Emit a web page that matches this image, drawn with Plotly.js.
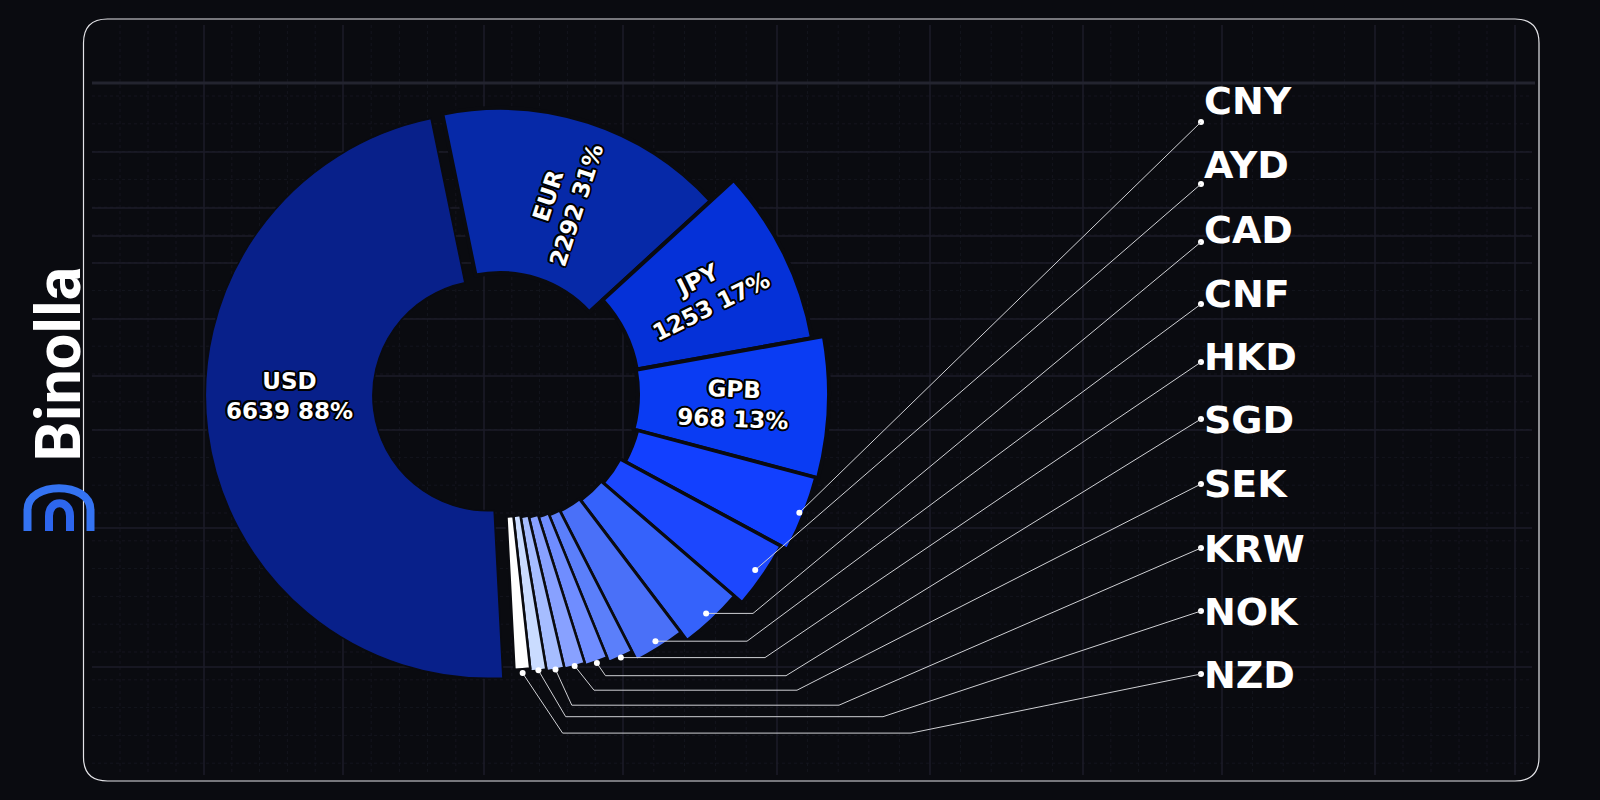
<!DOCTYPE html>
<html><head><meta charset="utf-8">
<script src="https://cdn.plot.ly/plotly-3.0.1.min.js"></script>
<style>html,body{margin:0;padding:0;background:#0a0b10;overflow:hidden}#chart{width:1600px;height:800px}</style>
</head><body><div id="chart"></div>
<script>
// ---------------- data ----------------
const currencies = ['USD','EUR','JPY','GPB','CNY','AYD','CAD','CNF','HKD','SGD','SEK','KRW','NOK','NZD'];
const turnover   = [6639, 2292, 1253, 968, 526, 479, 466, 390, 194, 180, 165, 142, 127, 127];
const sharePct   = [88, 31, 17, 13, 7, 6, 6, 5, 3, 2, 2, 2, 2, 2];
const insideLabelled = ['USD','EUR','JPY','GPB'];
const calloutLabels  = ['CNY','AYD','CAD','CNF','HKD','SGD','SEK','KRW','NOK','NZD'];
const brandName = 'Binolla';

// ---------------- style ----------------
const W = 1600, H = 800, BG = '#0a0b10';
const CX = 500, CY = 394, ROTATION = 177;
const sliceColors = ['#08208a','#0629a8','#0531d8','#0a3cf3','#1240ff','#1c47fe','#3562fb','#4a70f8','#5b7ffa','#6f8dff','#88a1ff','#a6bdff','#cadcff','#ffffff'];
const visOuter = [282, 284, 315, 327, 325, 318, 308, 298, 288, 283, 281, 280, 278, 275];
const visInner = [116, 123, 141, 140, 144, 138, 135, 133, 132, 130, 128, 126, 124, 124];
const gapW     = [1.5, 4, 4, 4, 3.5, 3.5, 3, 3, 2.5, 2.5, 2.5, 2.5, 2.5, 2.5];
const pullPx   = [12, 0, 0, 0, 0, 0, 0, 0, 0, 0, 0, 0, 0, 0];
const dotOffset= [0, 0, 0, 0, -3, -8, -7, -6, 2, 3, 1, 1, 1, 5];
// callout routing (per callout row)
const labelX = 1201;
const labelDotY  = [122, 184, 242, 304, 362, 419, 484, 548, 611, 674];
const labelTextY = [100, 164, 229, 293, 356, 419, 483, 548, 611, 674];
const bendDx = [null, null, 0, 0, 0, 8.6, 19.3, 16.3, 27.3, 40];
const bendDy = [null, null, 0, 0, 0, 12.6, 24.3, 35.7, 46.4, 60];
const hEndX  = [null, null, 753, 747, 765, 786, 797, 839, 883, 911];

const SHADOW = '2px 0 0 #000,-2px 0 0 #000,0 2px 0 #000,0 -2px 0 #000,1.5px 1.5px 0 #000,-1.5px -1.5px 0 #000,1.5px -1.5px 0 #000,-1.5px 1.5px 0 #000';

const traces = [];
currencies.forEach((cur, i) => {
  const R = visOuter[i] + gapW[i] / 2;
  const p = pullPx[i] / R;
  const half = R * (1 + p);
  traces.push({
    type: 'pie',
    labels: currencies,
    values: turnover,
    sort: false,
    direction: 'clockwise',
    rotation: ROTATION,
    hole: (visInner[i] - gapW[i] / 2) / R,
    pull: currencies.map((c, j) => j === i ? p : 0),
    domain: { x: [(CX - half) / W, (CX + half) / W], y: [1 - (CY + half) / H, 1 - (CY - half) / H] },
    marker: {
      colors: currencies.map((c, j) => j === i ? sliceColors[i] : 'rgba(0,0,0,0)'),
      line: { color: BG, width: currencies.map((c, j) => j === i ? gapW[i] : 0) }
    },
    textinfo: 'none',
    hoverinfo: 'skip',
    showlegend: false
  });
});

// label dots as a cartesian trace
traces.push({
  type: 'scatter', mode: 'markers', x: calloutLabels.map(() => labelX), y: labelDotY,
  marker: { size: 6, color: '#ffffff' }, hoverinfo: 'skip', showlegend: false
});

// slice angles (degrees clockwise from 12 o'clock)
const total = turnover.reduce((a, b) => a + b, 0);
let cum = 0;
const startDeg = [], endDeg = [];
turnover.forEach(v => { startDeg.push(ROTATION + cum / total * 360); cum += v; endDeg.push(ROTATION + cum / total * 360); });
const midDeg = startDeg.map((s, i) => (s + endDeg[i]) / 2);

const shapes = [];
// ---- background grid ----
const majorV = [204, 343, 484, 623, 777, 930, 1083, 1222, 1375, 1515];
const majorH = [152, 208, 236, 263, 319, 376, 430, 528, 667];
for (let y = 96; y < 775; y += 27.8) {
  shapes.push({ type: 'line', layer: 'below', xref: 'x', yref: 'y', x0: 92, x1: 1532, y0: y, y1: y, line: { color: '#14151e', width: 1, dash: 'dot' } });
}
const minorV = [120, 148, 176];
for (let k = 0; k < majorV.length - 1; k++) { const s = (majorV[k + 1] - majorV[k]) / 5; for (let m = 1; m < 5; m++) minorV.push(majorV[k] + m * s); }
minorV.forEach(x => {
  shapes.push({ type: 'line', layer: 'below', xref: 'x', yref: 'y', x0: x, x1: x, y0: 25, y1: 775, line: { color: '#14151e', width: 1, dash: 'dot' } });
});
majorV.forEach(x => shapes.push({ type: 'line', layer: 'below', xref: 'x', yref: 'y', x0: x, x1: x, y0: 25, y1: 775, line: { color: '#1c1d28', width: 1.5 } }));
majorH.forEach(y => shapes.push({ type: 'line', layer: 'below', xref: 'x', yref: 'y', x0: 92, x1: 1532, y0: y, y1: y, line: { color: '#1c1d28', width: 1.5 } }));
shapes.push({ type: 'line', layer: 'below', xref: 'x', yref: 'y', x0: 92, x1: 1535, y0: 83, y1: 83, line: { color: '#23242f', width: 3 } });
// frame
const fx0 = 83.5, fy0 = 19, fx1 = 1539, fy1 = 781, fr = 24;
shapes.push({ type: 'path', layer: 'below', xref: 'x', yref: 'y',
  path: `M ${fx0 + fr},${fy0} L ${fx1 - fr},${fy0} Q ${fx1},${fy0} ${fx1},${fy0 + fr} L ${fx1},${fy1 - fr} Q ${fx1},${fy1} ${fx1 - fr},${fy1} L ${fx0 + fr},${fy1} Q ${fx0},${fy1} ${fx0},${fy1 - fr} L ${fx0},${fy0 + fr} Q ${fx0},${fy0} ${fx0 + fr},${fy0} Z`,
  line: { color: '#e4e4e8', width: 1.2 } });

// ---- callout leader lines ----
calloutLabels.forEach((lab, k) => {
  const j = currencies.indexOf(lab);
  const a = midDeg[j] * Math.PI / 180;
  const r = visOuter[j] + dotOffset[j];
  const dx = CX + r * Math.sin(a), dy = CY - r * Math.cos(a);
  const pts = [[dx, dy]];
  if (bendDx[k] !== null) {
    let bx = dx + bendDx[k], by = dy + bendDy[k];
    if (bendDx[k] !== 0 || bendDy[k] !== 0) pts.push([bx, by]);
    pts.push([hEndX[k], by]);
  }
  pts.push([labelX, labelDotY[k]]);
  shapes.push({ type: 'path', layer: 'above', xref: 'x', yref: 'y',
    path: 'M ' + pts.map(p => p[0].toFixed(1) + ',' + p[1].toFixed(1)).join(' L '),
    line: { color: '#cfd0d4', width: 1 } });
  shapes.push({ type: 'circle', layer: 'above', xref: 'x', yref: 'y', x0: dx - 3, x1: dx + 3, y0: dy - 3, y1: dy + 3,
    fillcolor: '#ffffff', line: { width: 0 } });
});

// ---- brand icon ----
shapes.push({ type: 'path', layer: 'above', xref: 'x', yref: 'y', path: 'M 27.5,531 L 27.5,510 C 27.5,481 90.5,481 90.5,510 L 90.5,531', line: { color: '#3473f2', width: 8 } });
shapes.push({ type: 'path', layer: 'above', xref: 'x', yref: 'y', path: 'M 49,531 L 49,516 C 49,499 70,499 70,516 L 70,531', line: { color: '#2d66ee', width: 8 } });

const annotations = calloutLabels.map((lab, k) => ({
  x: labelX + 1, y: labelTextY[k] + 1, xref: 'x', yref: 'y', text: lab, showarrow: false,
  xanchor: 'left', yanchor: 'middle', font: { family: 'DejaVu Sans', size: 38, color: '#ffffff', weight: 700 }
}));
annotations.push({ x: 57.5, y: 364, xref: 'x', yref: 'y', text: brandName, showarrow: false, textangle: -90,
  xanchor: 'center', yanchor: 'middle', font: { family: 'Roboto', size: 63, color: '#ffffff', weight: 700 } });

// ---- in-slice labels (placed on each slice's mid-ring, radial; a slice spanning the left side gets a horizontal label there) ----
insideLabelled.forEach(cur => {
  const j = currencies.indexOf(cur);
  const mid = midDeg[j];
  const crossesLeft = startDeg[j] < 270 && endDeg[j] > 270;
  const ang = crossesLeft ? 270 : mid;
  const r = (visInner[j] + visOuter[j]) / 2;
  const pa = mid * Math.PI / 180;
  const ox = pullPx[j] * Math.sin(pa), oy = -pullPx[j] * Math.cos(pa);
  const a = ang * Math.PI / 180;
  const x = CX + ox + r * Math.sin(a), y = CY + oy - r * Math.cos(a);
  let phi = 90 - ang;                     // math angle of the radius
  phi = ((phi % 360) + 540) % 360 - 180;  // -180..180
  let rot = -phi;
  if (phi > 90) rot = 180 - phi; else if (phi < -90) rot = -180 - phi;
  if (crossesLeft) rot = 0;
  annotations.push({ x, y, xref: 'x', yref: 'y', showarrow: false, textangle: rot,
    text: `${cur}<br>${turnover[j]} ${sharePct[j]}%`, align: 'center', xanchor: 'center', yanchor: 'middle',
    font: { family: 'DejaVu Sans', size: 23, color: '#ffffff', weight: 700, shadow: SHADOW } });
});

const layout = {
  width: W, height: H, margin: { l: 0, r: 0, t: 0, b: 0, pad: 0 },
  paper_bgcolor: BG, plot_bgcolor: 'rgba(0,0,0,0)',
  xaxis: { range: [0, W], visible: false, fixedrange: true, domain: [0, 1] },
  yaxis: { range: [H, 0], visible: false, fixedrange: true, domain: [0, 1] },
  shapes, annotations, showlegend: false, hovermode: false
};
Plotly.newPlot('chart', traces, layout, { displayModeBar: false, staticPlot: true });
</script></body></html>
